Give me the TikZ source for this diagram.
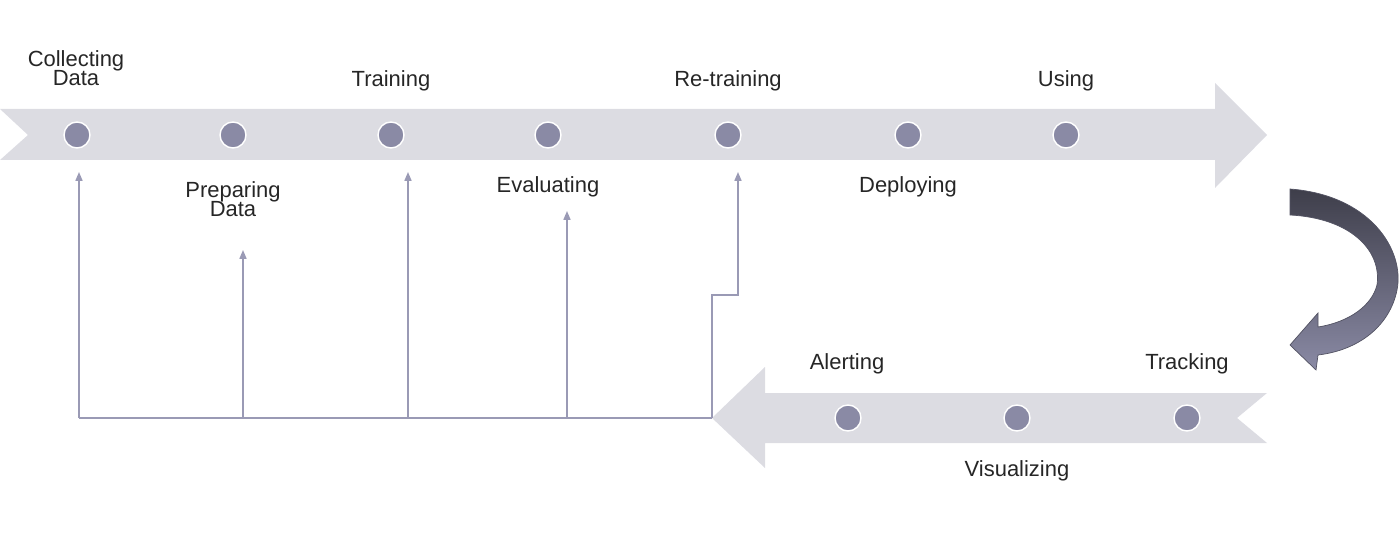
\documentclass[tikz,border=0pt]{standalone}
\usepackage{fontspec}
\setmainfont{Liberation Sans}
\usetikzlibrary{arrows.meta}
\definecolor{band}{HTML}{DCDCE2}
\definecolor{dot}{HTML}{8A8AA5}
\definecolor{link}{HTML}{9A9AB5}
\begin{document}
\begin{tikzpicture}[x=0.02cm,y=-0.02cm,
    stage/.style={circle,fill=dot,draw=white,thick,minimum size=0.52cm,inner sep=0pt},
    lbl/.style={align=center,font=\fontsize{12.5}{14}\selectfont,text=black!85},
    feed/.style={draw=link,thick,-{Triangle[length=5pt,width=4pt]}}]
\useasboundingbox (0,0) rectangle (1400,547);
% bands
\fill[band] (0,109) -- (1215,109) -- (1215,83) -- (1267,135) -- (1215,188) -- (1215,160)
    -- (0,160) -- (28,135) -- cycle;
\fill[band] (1267,393) -- (765,393) -- (765,367) -- (712,418) -- (765,468) -- (765,443)
    -- (1267,443) -- (1237,418) -- cycle;
% turn arrow
\shade[top color=black!55!dot,bottom color=dot,draw=black!40!dot,thin]
    (1290,189) .. controls (1370,195) and (1405,250) .. (1397,290)
    .. controls (1390,325) and (1360,350) .. (1318,355) -- (1316,370) -- (1290,345)
    -- (1318,313) -- (1318,327) .. controls (1350,322) and (1372,305) .. (1377,285)
    .. controls (1382,250) and (1350,218) .. (1290,215) -- cycle;
% stages
\begin{scope}[every node/.style=stage]
    \node (collect) at (77,135) {};
    \node (prepare) at (233,135) {};
    \node (train) at (391,135) {};
    \node (eval) at (548,135) {};
    \node (retrain) at (728,135) {};
    \node (deploy) at (908,135) {};
    \node (use) at (1066,135) {};
    \node (alert) at (848,418) {};
    \node (visual) at (1017,418) {};
    \node (track) at (1187,418) {};
\end{scope}
\begin{scope}[every node/.style=lbl]
    \node (tcollect) at (76,68) {Collecting\\[-3pt]Data};
    \node (ttrain) at (391,81) {Training};
    \node (tretrain) at (728,81) {Re-training};
    \node (tuse) at (1066,81) {Using};
    \node (tprepare) at (233,199) {Preparing\\[-3pt]Data};
    \node (teval) at (548,187) {Evaluating};
    \node (tdeploy) at (908,187) {Deploying};
    \node (talert) at (847,364) {Alerting};
    \node (ttrack) at (1187,364) {Tracking};
    \node (tvisual) at (1017,471) {Visualizing};
\end{scope}
% feedback lines
\coordinate (b1) at (79,418);
\coordinate (b2) at (243,418);
\coordinate (b3) at (408,418);
\coordinate (b4) at (567,418);
\coordinate (b5) at (712,418);
\draw[link,thick] (b1) -- (b5);
\draw[feed] (b1) -- (79,172);
\draw[feed] (b2) -- (243,250);
\draw[feed] (b3) -- (408,172);
\draw[feed] (b4) -- (567,211);
\draw[feed] (b5) -- (712,295) -- (738,295) -- (738,172);
\end{tikzpicture}
\end{document}
